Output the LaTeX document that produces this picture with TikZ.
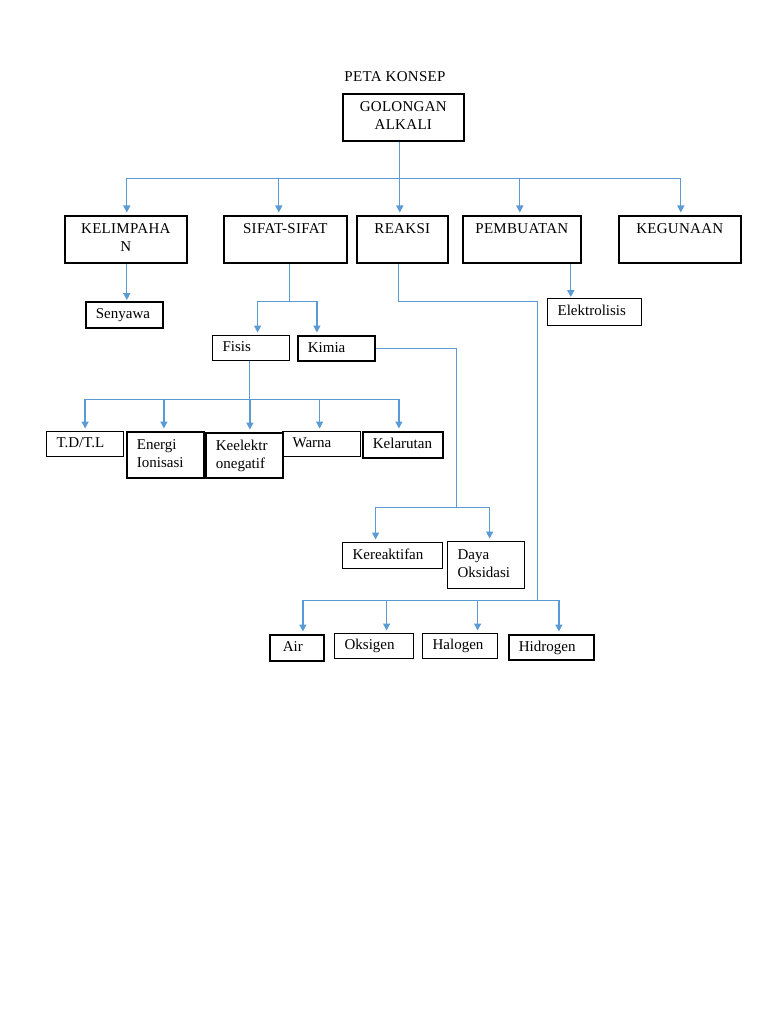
\documentclass[tikz,border=0pt]{standalone}
\usepackage{fontspec}
\setmainfont{Liberation Serif}
\usetikzlibrary{arrows.meta}
\definecolor{conn}{HTML}{5B9BD5}
\newcommand\lblfont{\fontsize{15}{18}\selectfont}
\newcommand\capfont{\fontsize{15}{18}\selectfont\addfontfeatures{LetterSpace=2}}
\begin{document}
\begin{tikzpicture}[x=1pt,y=-1pt,
  box/.style={draw, line width=1.2pt, anchor=north west, inner xsep=10pt, inner ysep=0pt, align=left, font=\lblfont},
  thk/.style={line width=1.8pt},
  capbox/.style={draw, line width=1.6pt, anchor=north west, inner xsep=4pt, inner ysep=0pt, align=center, font=\capfont},
  ln/.style={draw=conn, line width=1.3pt},
  arr/.style={ln, -{Triangle[width=7pt,length=7pt]}, shorten >=2.5pt}]
\fill[white] (0,0) rectangle (768,1024);
\useasboundingbox (0,0) rectangle (768,1024);

\node[font=\capfont] (title) at (395,77) {PETA KONSEP};
\node[capbox, minimum width=121pt, minimum height=47pt, text width=113pt] (gol) at (342,93) {\strut GOLONGAN\\\strut ALKALI};

\node[capbox, minimum width=122pt, minimum height=47pt, text width=114pt] (kel) at (64,215) {\strut KELIMPAHA\\\strut N};
\node[capbox, minimum width=123pt, minimum height=47pt, text width=115pt] (sif) at (223,215) {\strut SIFAT-SIFAT\\\strut};
\node[capbox, minimum width=91pt, minimum height=47pt, text width=83pt] (rea) at (356,215) {\strut REAKSI\\\strut};
\node[capbox, minimum width=118pt, minimum height=47pt, text width=110pt] (pem) at (462,215) {\strut PEMBUATAN\\\strut};
\node[capbox, minimum width=122pt, minimum height=47pt, text width=114pt] (keg) at (618,215) {\strut KEGUNAAN\\\strut};

\node[box, thk, minimum width=77pt, minimum height=26pt, text width=57pt] (seny) at (85,301) {\strut Senyawa};
\node[box, minimum width=94pt, minimum height=27pt, text width=74pt] (ele) at (547,298) {\strut Elektrolisis};
\node[box, minimum width=77pt, minimum height=25pt, text width=57pt] (fis) at (212,335) {\strut Fisis};
\node[box, thk, minimum width=77pt, minimum height=25pt, text width=57pt] (kim) at (297,335) {\strut Kimia};

\node[box, minimum width=77pt, minimum height=25pt, text width=57pt] (td) at (46,431) {\strut T.D/T.L};
\node[box, thk, minimum width=77pt, minimum height=46pt, text width=57pt] (ene) at (126,431) {\strut Energi\\\strut Ionisasi};
\node[box, thk, minimum width=77pt, minimum height=45pt, text width=57pt] (kee) at (205,432) {\strut Keelektr\\\strut onegatif};
\node[box, minimum width=78pt, minimum height=25pt, text width=58pt] (war) at (282,431) {\strut Warna};
\node[box, thk, minimum width=80pt, minimum height=26pt, text width=60pt] (kla) at (362,431) {\strut Kelarutan};

\node[box, minimum width=100pt, minimum height=26pt, text width=80pt] (ker) at (342,542) {\strut Kereaktifan};
\node[box, minimum width=77pt, minimum height=47pt, text width=57pt] (day) at (447,541) {\strut Daya\\\strut Oksidasi};

\node[box, thk, minimum width=54pt, minimum height=26pt, text width=34pt] (air) at (269,634) {\strut\hspace{3pt}Air};
\node[box, minimum width=79pt, minimum height=25pt, text width=59pt] (oks) at (334,633) {\strut Oksigen};
\node[box, minimum width=75pt, minimum height=25pt, text width=55pt] (hal) at (422,633) {\strut Halogen};
\node[box, thk, minimum width=85pt, minimum height=25pt, text width=65pt] (hid) at (508,634) {\strut Hidrogen};

% connectors
\draw[ln] ([xshift=-3.5pt]gol.south) -- ++(0,37) coordinate (j1);
\draw[arr] (j1) -| ([xshift=1pt]kel.north);
\draw[arr] (j1) -| ([xshift=-6.5pt]sif.north);
\draw[arr] (j1) -| ([xshift=-2.5pt]rea.north);
\draw[arr] (j1) -| ([xshift=-2pt]pem.north);
\draw[arr] (j1) -| ([xshift=1pt]keg.north);

\draw[arr] ([xshift=1pt]kel.south) -- ++(0,39);

\draw[arr] ([xshift=49pt]pem.south) -- ++(0,36);

\draw[ln] ([xshift=4.5pt]sif.south) -- ++(0,38) coordinate (j2);
\draw[arr] (j2) -| ([xshift=6.5pt]fis.north);
\draw[arr] (j2) -| ([xshift=-19.5pt]kim.north);

\draw[ln] ([xshift=-1.5pt]fis.south) -- ++(0,38) coordinate (j3);
\draw[arr] (j3) -| (td.north);
\draw[arr] (j3) -| ([xshift=-1.5pt]ene.north);
\draw[arr] (j3) -| ([xshift=5.5pt]kee.north);
\draw[arr] (j3) -| ([xshift=-2pt]war.north);
\draw[arr] (j3) -| ([xshift=-4pt]kla.north);

\draw[ln] (kim.east) -- ++(81,0) -- ++(0,159) coordinate (j4);
\draw[arr] (j4) -| ([xshift=-17pt]ker.north);
\draw[arr] (j4) -| ([xshift=3.5pt]day.north);

\draw[ln] ([xshift=-3.5pt]rea.south) -- ++(0,38) -| ++(139,299) coordinate (j5);
\draw[arr] (j5) -| ([xshift=6pt]air.north);
\draw[arr] (j5) -| ([xshift=12.5pt]oks.north);
\draw[arr] (j5) -| ([xshift=17.5pt]hal.north);
\draw[arr] (j5) -| ([xshift=7.5pt]hid.north);
\end{tikzpicture}
\end{document}
